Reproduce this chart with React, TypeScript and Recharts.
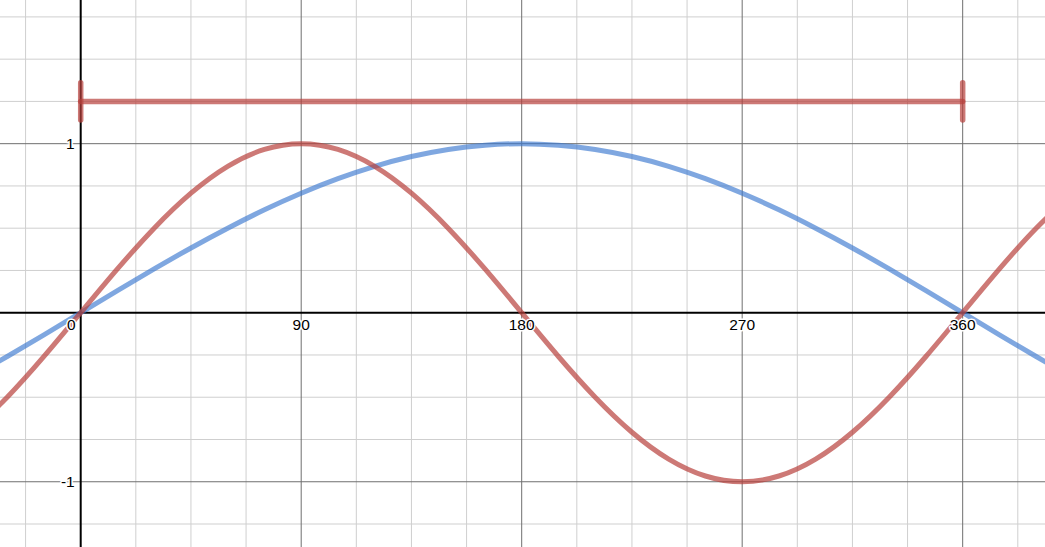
import { ComposedChart, Line, ReferenceDot, ReferenceLine, XAxis, YAxis } from "recharts";

// sample angles (degrees) and the two curves
const degrees = [
  -45, -30, -15, 0, 15, 30, 45, 60, 75, 90, 105, 120, 135, 150, 165, 180, 195, 210, 225,
  240, 255, 270, 285, 300, 315, 330, 345, 360, 375, 390, 405,
];
const redValues = [
  -0.707, -0.5, -0.259, 0, 0.259, 0.5, 0.707, 0.866, 0.966, 1, 0.966, 0.866, 0.707, 0.5,
  0.259, 0, -0.259, -0.5, -0.707, -0.866, -0.966, -1, -0.966, -0.866, -0.707, -0.5, -0.259,
  0, 0.259, 0.5, 0.707,
];
const blueValues = [
  -0.383, -0.259, -0.131, 0, 0.131, 0.259, 0.383, 0.5, 0.609, 0.707, 0.793, 0.866, 0.924,
  0.966, 0.991, 1, 0.991, 0.966, 0.924, 0.866, 0.793, 0.707, 0.609, 0.5, 0.383, 0.259,
  0.131, 0, -0.131, -0.259, -0.383,
];

// interval bar at the top
const intervalBounds = [0, 360];
const intervalLevel = 1.25;
const intervalCap = 0.11;

// grid and labels
const xMinorGrid = [-22.5, 22.5, 45, 67.5, 112.5, 135, 157.5, 202.5, 225, 247.5, 292.5, 315, 337.5, 382.5];
const xMajorGrid = [90, 180, 270, 360];
const yMinorGrid = [-1.25, -0.75, -0.5, -0.25, 0.25, 0.5, 0.75, 1.25, 1.5, 1.75];
const yMajorGrid = [-1, 1];
const xTickLabels = [0, 90, 180, 270, 360];
const yTickLabels = [1, -1];

const xDomain = [-32.94, 393.6];
const yDomain = [-1.386, 1.85];

const data = degrees.map((x, i) => ({ x, red: redValues[i], blue: blueValues[i] }));

const RED = "#b8403c";
const BLUE = "#3a78d0";
const FONT = "'Liberation Sans', Arial, sans-serif";

const labelStyle = {
  fontFamily: FONT,
  fontSize: 15.5,
  fill: "#000",
  stroke: "#fff",
  strokeWidth: 3,
  paintOrder: "stroke",
  strokeLinejoin: "round" as const,
};

export default function App() {
  return (
    <div style={{ position: "absolute", left: 0, top: 0, background: "#fff" }}>
      <ComposedChart width={1045} height={547} data={data} margin={{ top: 0, right: 0, left: 0, bottom: 0 }}>
        <XAxis type="number" dataKey="x" domain={xDomain} allowDataOverflow hide />
        <YAxis type="number" domain={yDomain} allowDataOverflow hide />

        {xMinorGrid.map((v) => (
          <ReferenceLine key={`xm${v}`} x={v} stroke="#cfcfcf" strokeWidth={1} ifOverflow="hidden" />
        ))}
        {yMinorGrid.map((v) => (
          <ReferenceLine key={`ym${v}`} y={v} stroke="#cfcfcf" strokeWidth={1} ifOverflow="hidden" />
        ))}
        {xMajorGrid.map((v) => (
          <ReferenceLine key={`xM${v}`} x={v} stroke="#6f6f6f" strokeWidth={1} ifOverflow="hidden" />
        ))}
        {yMajorGrid.map((v) => (
          <ReferenceLine key={`yM${v}`} y={v} stroke="#6f6f6f" strokeWidth={1} ifOverflow="hidden" />
        ))}
        <ReferenceLine x={0} stroke="#000" strokeWidth={2} />
        <ReferenceLine y={0} stroke="#000" strokeWidth={2} />

        <ReferenceLine
          segment={[
            { x: intervalBounds[0], y: intervalLevel },
            { x: intervalBounds[1], y: intervalLevel },
          ]}
          stroke={RED}
          strokeOpacity={0.7}
          strokeWidth={5.5}
          strokeLinecap="round"
        />
        {intervalBounds.map((b) => (
          <ReferenceLine
            key={`cap${b}`}
            segment={[
              { x: b, y: intervalLevel - intervalCap },
              { x: b, y: intervalLevel + intervalCap },
            ]}
            stroke={RED}
            strokeOpacity={0.7}
            strokeWidth={5.5}
            strokeLinecap="round"
          />
        ))}

        <Line
          type="natural"
          dataKey="blue"
          stroke={BLUE}
          strokeOpacity={0.65}
          strokeWidth={5}
          dot={false}
          activeDot={false}
          isAnimationActive={false}
        />
        <Line
          type="natural"
          dataKey="red"
          stroke={RED}
          strokeOpacity={0.7}
          strokeWidth={5}
          dot={false}
          activeDot={false}
          isAnimationActive={false}
        />

        {xTickLabels.map((v) => (
          <ReferenceDot
            key={`xl${v}`}
            x={v}
            y={0}
            r={0}
            shape={(p: any) => (
              <text x={v === 0 ? p.cx - 5 : p.cx} y={p.cy + 17} textAnchor={v === 0 ? "end" : "middle"} style={labelStyle}>
                {v}
              </text>
            )}
          />
        ))}
        {yTickLabels.map((v) => (
          <ReferenceDot
            key={`yl${v}`}
            x={0}
            y={v}
            r={0}
            shape={(p: any) => (
              <text x={p.cx - 6} y={p.cy + 5.5} textAnchor="end" style={labelStyle}>
                {v}
              </text>
            )}
          />
        ))}
      </ComposedChart>
    </div>
  );
}
